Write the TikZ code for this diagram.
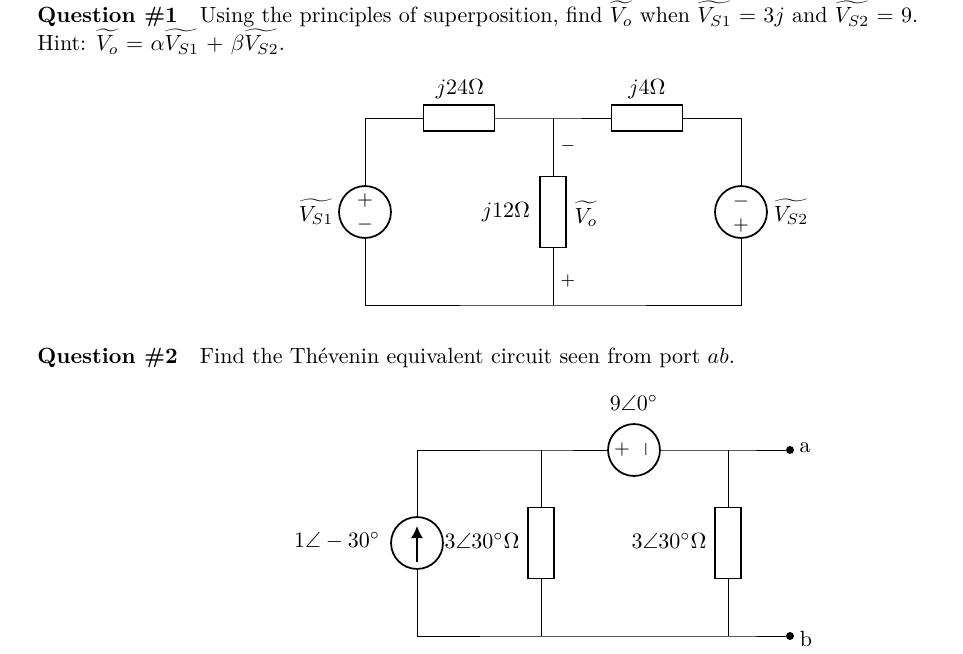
\documentclass[tikz,border=0pt]{standalone}
\usepackage{amsmath}
\usepackage{amsfonts}
\usepackage{amssymb}
\usetikzlibrary{arrows.meta}
\tikzset{
  impedh/.style={draw,thick,rectangle,inner sep=0pt,minimum width=32.3pt,minimum height=11.8pt},
  impedv/.style={draw,thick,rectangle,inner sep=0pt,minimum width=11.8pt,minimum height=32.3pt},
  source/.style={draw,thick,circle,inner sep=0pt,minimum size=23.6pt},
  terminal/.style={circle,fill,inner sep=0pt,minimum size=3.6pt},
  textline/.style={anchor=base west,inner sep=0pt,execute at begin node={\thickmuskip=6mu \medmuskip=6mu}}
}
\begin{document}
\begin{tikzpicture}[x=0.4545pt,y=-0.4545pt]
\useasboundingbox (0,0) rectangle (963,654);

\node [textline] (qone) at (37,23) {\textbf{Question \#1}\quad Using the principles of superposition, find $\widetilde{V_o}$ when $\widetilde{V_{S1}}=3j$ and $\widetilde{V_{S2}}=9$.};
\node [textline] (hint) at (37,51) {Hint: $\widetilde{V_o}=\alpha\widetilde{V_{S1}}+\beta\widetilde{V_{S2}}$.};
\node [textline] (qtwo) at (37,364) {\textbf{Question \#2}\quad Find the Th\'evenin equivalent circuit seen from port $ab$.};

% first circuit
\coordinate (tl) at (365,118);
\coordinate (tm) at (553,118);
\coordinate (tr) at (741,118);
\coordinate (bl) at (365,305);
\coordinate (bm) at (553,305);
\coordinate (br) at (741,305);
\node [impedh] (zone) at (459,118) {};
\node [impedh] (ztwo) at (647,118) {};
\node [impedv] (zthree) at (553,212) {};
\node [source] (vsone) at (365,212) {};
\node [source] (vstwo) at (741,212) {};

\draw (vsone) -- (tl) -- (zone) -- (tm) -- (ztwo) -- (tr) -- (vstwo);
\draw (vsone) -- (bl) -- (bm) -- (br) -- (vstwo);
\draw (tm) -- (zthree) -- (bm);

\node (vsoneplus) at (365,201) {\small$+$};
\node (vsoneminus) at (365,225) {\small$-$};
\node (vstwominus) at (741,202) {\small$-$};
\node (vstwoplus) at (741,226) {\small$+$};
\node (zminus) at (568,146) {\footnotesize$-$};
\node (zplus) at (568,281) {\footnotesize$+$};
\node (zonelabel) at (460,89) {$j24\Omega$};
\node (ztwolabel) at (647,89) {$j4\Omega$};
\node (zthreelabel) at (506,212) {$j12\Omega$};
\node (vo) at (586,214) {$\widetilde{V_o}$};
\node (vsonelabel) at (316,212) {$\widetilde{V_{S1}}$};
\node (vstwolabel) at (791,212) {$\widetilde{V_{S2}}$};

% second circuit
\coordinate (ltl) at (417,450);
\coordinate (ltm) at (541,450);
\coordinate (ltr) at (728,450);
\coordinate (lbl) at (417,636);
\coordinate (lbm) at (541,636);
\coordinate (lbr) at (728,636);
\node [terminal] (a) at (790,450) {};
\node [terminal] (b) at (790,636) {};
\node [source] (vsrc) at (634,450) {};
\node [source] (isrc) at (417,543) {};
\node [impedv] (zfour) at (541,543) {};
\node [impedv] (zfive) at (728,543) {};
\coordinate (arrowfoot) at (417,562);
\coordinate (arrowtip) at (417,526);

\draw (isrc) -- (ltl) -- (ltm) -- (vsrc) -- (ltr) -- (a);
\draw (isrc) -- (lbl) -- (lbm) -- (lbr) -- (b);
\draw (ltm) -- (zfour) -- (lbm);
\draw (ltr) -- (zfive) -- (lbr);
\draw [-{Latex[length=5.5pt,width=5.5pt]},thick] (arrowfoot) -- (arrowtip);

\node (vsrcplus) at (622,450) {\small$+$};
\node [rotate=90] (vsrcminus) at (646,450) {\small$-$};
\node (vsrclabel) at (634,403) {$9\angle 0^\circ$};
\node (isrclabel) at (337,541) {$1\angle-30^\circ$};
\node (zfourlabel) at (482,541) {$3\angle 30^\circ\Omega$};
\node (zfivelabel) at (669,541) {$3\angle 30^\circ\Omega$};
\node (alabel) at (805,448) {a};
\node (blabel) at (806,639) {b};
\end{tikzpicture}
\end{document}
